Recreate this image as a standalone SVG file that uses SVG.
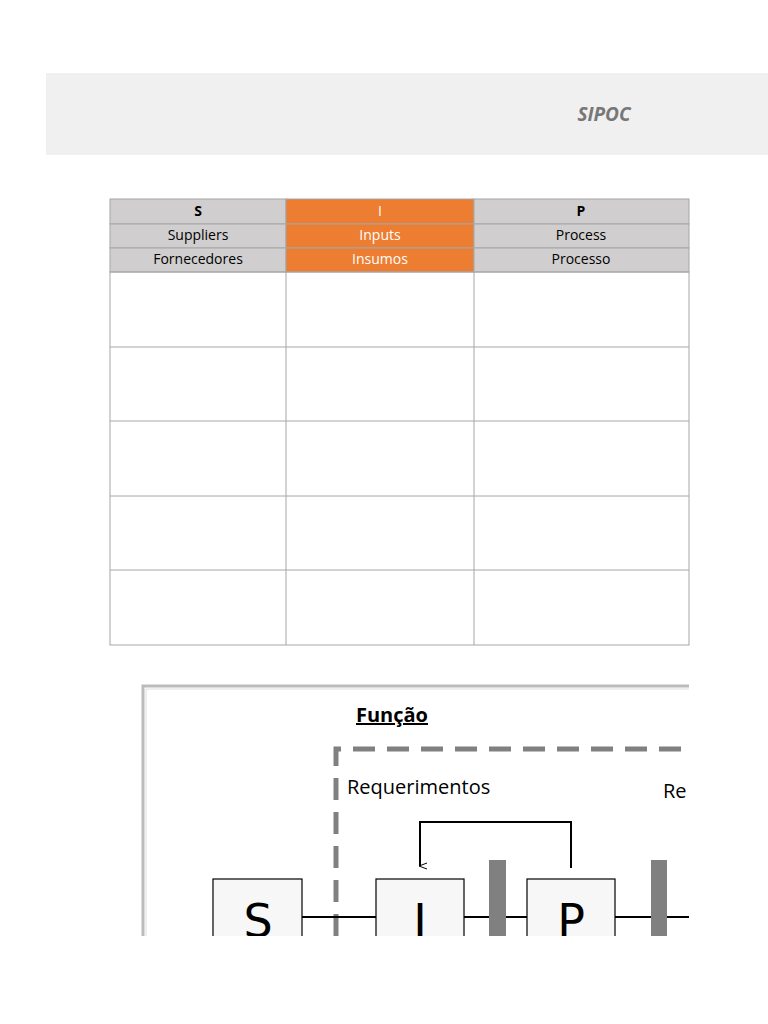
<svg xmlns="http://www.w3.org/2000/svg" width="768" height="1024" viewBox="0 0 768 1024">
<style>
.t{font-family:"Open Sans","Liberation Sans",sans-serif;font-size:14px;text-anchor:middle;fill:#000}
.g{fill:#d0cece;stroke:#a6a6a6;stroke-width:1}
.o{fill:#ed7d31;stroke:#a6a6a6;stroke-width:1}
.w{fill:#fff;stroke:#a6a6a6;stroke-width:1}
.bx{fill:#f7f7f7;stroke:#000;stroke-width:1.2}
.big{font-family:"DejaVu Sans",sans-serif;font-size:46px;text-anchor:middle}
</style>
<defs><marker id="a" markerWidth="8" markerHeight="8" refX="4" refY="7" orient="auto" markerUnits="userSpaceOnUse"><path d="M1,0 L4,8 L7,0" fill="none" stroke="#000"/></marker>
<clipPath id="c"><rect x="0" y="680" width="689" height="256"/></clipPath></defs>
<rect width="768" height="1024" fill="#fff"/>
<rect x="46" y="73" width="722" height="82" fill="#f0f0f0"/>
<text x="604" y="121" font-family="Open Sans,Liberation Sans,sans-serif" font-size="19" font-weight="bold" font-style="italic" fill="#777" text-anchor="middle">SIPOC</text>
<g id="table">
<rect class="g" x="110" y="199" width="176" height="25"/><rect class="o" x="286" y="199" width="188" height="25"/><rect class="g" x="474" y="199" width="215" height="25"/>
<rect class="g" x="110" y="224" width="176" height="24"/><rect class="o" x="286" y="224" width="188" height="24"/><rect class="g" x="474" y="224" width="215" height="24"/>
<rect class="g" x="110" y="248" width="176" height="24"/><rect class="o" x="286" y="248" width="188" height="24"/><rect class="g" x="474" y="248" width="215" height="24"/>
<text class="t" x="198" y="216" font-weight="bold">S</text><text class="t" x="380" y="216" fill="#fff" style="fill:#fff">I</text><text class="t" x="581" y="216" font-weight="bold">P</text>
<text class="t" x="198" y="240">Suppliers</text><text class="t" x="380" y="240" style="fill:#fff">Inputs</text><text class="t" x="581" y="240">Process</text>
<text class="t" x="198" y="264">Fornecedores</text><text class="t" x="380" y="264" style="fill:#fff">Insumos</text><text class="t" x="581" y="264">Processo</text>
<g fill="none" stroke="#a6a6a6">
<rect x="110" y="272" width="579" height="373"/>
<path d="M110 347H689M110 421H689M110 496H689M110 570H689M286 272V645M474 272V645"/>
</g>
</g>
<g clip-path="url(#c)">
<path d="M143 936V686H689" fill="none" stroke="#bbb" stroke-width="3"/>
<path d="M146 936V689H689" fill="none" stroke="#ddd" stroke-width="1"/>
<text x="392" y="722" font-family="Open Sans,Liberation Sans,sans-serif" font-size="20" font-weight="bold" text-anchor="middle" text-decoration="underline">Função</text>
<path d="M336 936V749H689" fill="none" stroke="#808080" stroke-width="5" stroke-dasharray="22,12"/>
<text x="347" y="794" font-family="Open Sans,Liberation Sans,sans-serif" font-size="20">Requerimentos</text>
<text x="663" y="798" font-family="Open Sans,Liberation Sans,sans-serif" font-size="20">Re</text>
<g id="connectors" stroke="#000" stroke-width="2" fill="none">
<path d="M302 917H376M464 917H527M615 917H689"/>
<path d="M571 868V822H420V866" marker-end="url(#a)"/>
</g>
<rect x="489" y="860" width="17" height="80" fill="#808080"/>
<rect x="651" y="860" width="16" height="80" fill="#808080"/>
<g id="S"><rect class="bx" x="213" y="879" width="89" height="70"/><text class="big" x="258" y="937">S</text></g>
<g id="I"><rect class="bx" x="376" y="879" width="88" height="70"/><text class="big" x="420" y="937">I</text></g>
<g id="P"><rect class="bx" x="527" y="879" width="88" height="70"/><text class="big" x="571" y="937">P</text></g>
</g>
</svg>
